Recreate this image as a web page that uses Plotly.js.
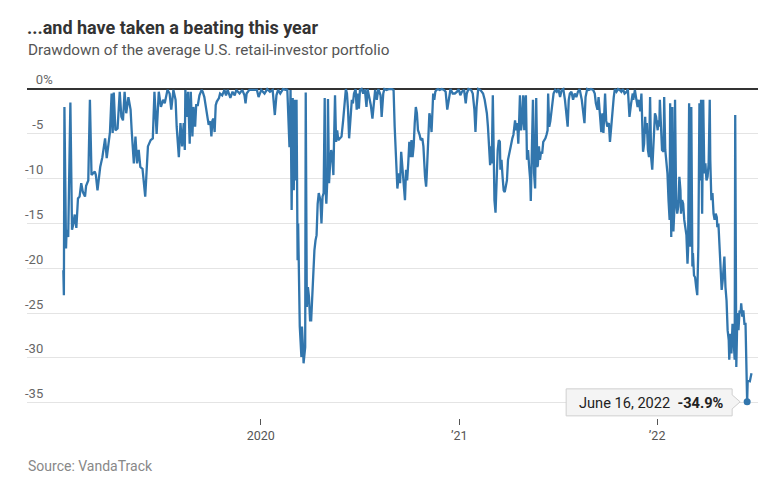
<!DOCTYPE html>
<html>
<head>
<meta charset="utf-8">
<script src="https://cdn.plot.ly/plotly-3.0.1.min.js"></script>
<style>
  html, body { margin: 0; padding: 0; background: #fff; }
  #chart { width: 768px; height: 480px; }
</style>
</head>
<body>
<div id="chart"></div>
<script>
// Drawdown (%) of the average U.S. retail-investor portfolio, by date
const dates2019 = ['2019-01-02','2019-01-03','2019-01-04','2019-01-07','2019-01-08','2019-01-10','2019-01-11','2019-01-15','2019-01-18','2019-01-20','2019-01-23','2019-01-26','2019-01-29','2019-02-01','2019-02-04','2019-02-07','2019-02-11','2019-02-13','2019-02-17','2019-02-20','2019-02-23','2019-03-01','2019-03-03','2019-03-06','2019-03-11','2019-03-15','2019-03-20','2019-03-23','2019-03-26','2019-03-29','2019-04-01','2019-04-03','2019-04-05','2019-04-08','2019-04-12','2019-04-16','2019-04-19','2019-04-22','2019-04-25','2019-04-28','2019-05-02','2019-05-06','2019-05-08','2019-05-12','2019-05-15','2019-05-18','2019-05-21','2019-05-24','2019-05-28','2019-06-02','2019-06-04','2019-06-07','2019-06-12','2019-06-16','2019-06-19','2019-06-23','2019-06-27','2019-07-01','2019-07-05','2019-07-08','2019-07-13','2019-07-17','2019-07-20','2019-07-24','2019-07-28','2019-07-30','2019-08-03','2019-08-06','2019-08-09','2019-08-12','2019-08-14','2019-08-15','2019-08-18','2019-08-20','2019-08-23','2019-08-25','2019-08-28','2019-08-30','2019-09-02','2019-09-04','2019-09-07','2019-09-10','2019-09-14','2019-09-16','2019-09-19','2019-09-22','2019-09-25','2019-09-27','2019-09-30','2019-10-02','2019-10-04','2019-10-06','2019-10-08','2019-10-10','2019-10-12','2019-10-16','2019-10-18','2019-10-22','2019-10-26','2019-10-29','2019-11-01','2019-11-06','2019-11-10','2019-11-14','2019-11-17','2019-11-23','2019-11-28','2019-12-02','2019-12-04','2019-12-06','2019-12-11','2019-12-17','2019-12-25','2019-12-28'];
const drawdown2019 = [-20.2,-23.0,-2.0,-17.8,-15.7,-16.3,-16.5,-1.5,-15.7,-15.2,-14.0,-15.5,-12.2,-12.0,-10.5,-11.5,-12.0,-10.8,-10.2,-1.2,-9.6,-9.2,-9.6,-11.3,-8.7,-7.6,-5.5,-7.7,-6.5,-4.8,-0.5,-4.9,-0.4,-4.6,-4.4,-0.3,-3.1,-3.5,-0.3,-2.7,-0.9,-2.3,-4.6,-8.3,-5.3,-8.3,-6.8,-8.7,-8.9,-12.0,-9.8,-6.4,-5.7,-5.5,-0.3,-5.0,-0.3,-2.0,-1.2,-1.6,-0.1,-0.5,-2.3,-0.1,-1.2,-4.2,-7.6,-3.8,-6.4,-3.8,-6.8,-0.1,-3.1,-0.3,-6.1,-0.3,-5.3,-2.0,-4.2,-1.8,-1.8,-0.7,-0.1,-0.3,-0.9,-2.0,-3.5,-4.0,-3.6,-5.3,-3.5,-3.3,-4.8,-1.8,-1.4,-1.0,-0.5,-0.7,-0.1,-0.7,-0.1,-1.0,-0.3,-0.7,-0.1,-0.5,-0.1,-0.7,-1.6,-0.5,-0.1,-0.1,-0.1,-0.9];

const dates2020 = ['2020-01-02','2020-01-08','2020-01-13','2020-01-18','2020-01-23','2020-01-27','2020-01-30','2020-02-02','2020-02-06','2020-02-11','2020-02-17','2020-02-19','2020-02-23','2020-02-25','2020-02-27','2020-02-29','2020-03-02','2020-03-03','2020-03-05','2020-03-07','2020-03-09','2020-03-10','2020-03-12','2020-03-13','2020-03-16','2020-03-17','2020-03-19','2020-03-20','2020-03-23','2020-03-24','2020-03-26','2020-03-28','2020-03-30','2020-04-01','2020-04-03','2020-04-05','2020-04-07','2020-04-09','2020-04-11','2020-04-13','2020-04-15','2020-04-17','2020-04-20','2020-04-22','2020-04-24','2020-04-26','2020-04-28','2020-04-29','2020-05-01','2020-05-03','2020-05-04','2020-05-06','2020-05-08','2020-05-10','2020-05-12','2020-05-14','2020-05-15','2020-05-17','2020-05-19','2020-05-21','2020-05-23','2020-05-26','2020-05-29','2020-06-01','2020-06-04','2020-06-06','2020-06-08','2020-06-10','2020-06-12','2020-06-15','2020-06-17','2020-06-19','2020-06-21','2020-06-24','2020-06-26','2020-06-28','2020-06-30','2020-07-02','2020-07-05','2020-07-08','2020-07-11','2020-07-14','2020-07-16','2020-07-19','2020-07-22','2020-07-25','2020-07-27','2020-07-30','2020-08-02','2020-08-05','2020-08-09','2020-08-11','2020-08-14','2020-08-16','2020-08-20','2020-08-25','2020-08-30','2020-09-02','2020-09-04','2020-09-07','2020-09-09','2020-09-12','2020-09-14','2020-09-16','2020-09-19','2020-09-21','2020-09-23','2020-09-25','2020-09-27','2020-09-29','2020-10-01','2020-10-03','2020-10-05','2020-10-07','2020-10-09','2020-10-11','2020-10-13','2020-10-15','2020-10-17','2020-10-20','2020-10-22','2020-10-25','2020-10-27','2020-10-30','2020-11-01','2020-11-02','2020-11-04','2020-11-07','2020-11-09','2020-11-11','2020-11-13','2020-11-14','2020-11-16','2020-11-18','2020-11-20','2020-11-23','2020-11-26','2020-11-30','2020-12-04','2020-12-07','2020-12-10','2020-12-12','2020-12-14','2020-12-16','2020-12-20','2020-12-24','2020-12-28','2020-12-31'];
const drawdown2020 = [-0.1,-0.5,0,-0.3,-0.1,-2.9,-0.7,-0.1,-0.5,0,-0.1,0,-6.5,-0.1,-13.5,-1.0,-11.3,-1.2,-10.2,-1.2,-19.1,-15.0,-20.6,-26.5,-29.9,-26.5,-28.8,-30.6,-28.8,-0.4,-24.3,-22.1,-23.2,-25.8,-25.8,-22.8,-20.9,-18.0,-16.9,-16.3,-12.8,-11.6,-12.4,-15.0,-12.0,-11.6,-1.0,-10.5,-12.8,-9.8,-1.1,-10.5,-8.3,-6.8,-7.6,-9.6,-6.4,-0.7,-5.9,-4.6,-5.7,-5.5,-5.3,-3.5,-1.6,0,-0.5,-2.3,-5.5,-2.7,-1.2,-1.6,-0.5,0,-2.3,-0.5,-2.2,-0.1,0,-0.5,0,-2.0,0,-0.9,-1.8,-3.3,-2.2,-0.1,-1.2,0,-0.7,-3.1,-0.5,0,-0.1,0,0,-0.1,-4.2,-7.6,-11.1,-9.4,-10.5,-7.0,-9.0,-10.2,-12.4,-9.0,-10.2,-8.3,-5.9,-7.6,-5.7,-7.6,-6.4,-3.8,-2.0,-2.7,-4.6,-5.1,-5.7,-5.5,-6.4,-9.8,-10.9,-9.8,-7.2,-2.7,-3.3,-4.8,-2.0,-0.5,-1.2,-0.3,-0.1,0,-0.1,0,-0.1,-0.3,-2.3,-1.6,-0.7,0,-0.5,-0.5,-0.3,0];

const dates2021 = ['2021-01-03','2021-01-06','2021-01-10','2021-01-13','2021-01-15','2021-01-18','2021-01-23','2021-01-26','2021-01-29','2021-01-31','2021-02-02','2021-02-05','2021-02-09','2021-02-12','2021-02-14','2021-02-17','2021-02-21','2021-02-23','2021-02-25','2021-02-27','2021-03-01','2021-03-02','2021-03-04','2021-03-06','2021-03-07','2021-03-09','2021-03-11','2021-03-13','2021-03-15','2021-03-17','2021-03-18','2021-03-20','2021-03-22','2021-03-24','2021-03-26','2021-03-28','2021-03-30','2021-04-01','2021-04-04','2021-04-06','2021-04-09','2021-04-11','2021-04-14','2021-04-16','2021-04-18','2021-04-20','2021-04-22','2021-04-23','2021-04-25','2021-04-27','2021-04-29','2021-05-01','2021-05-03','2021-05-04','2021-05-06','2021-05-08','2021-05-10','2021-05-12','2021-05-13','2021-05-15','2021-05-17','2021-05-19','2021-05-21','2021-05-23','2021-05-25','2021-05-26','2021-05-28','2021-05-30','2021-06-01','2021-06-03','2021-06-05','2021-06-07','2021-06-09','2021-06-11','2021-06-13','2021-06-14','2021-06-16','2021-06-18','2021-06-20','2021-06-22','2021-06-24','2021-06-27','2021-06-30','2021-07-03','2021-07-06','2021-07-09','2021-07-12','2021-07-15','2021-07-18','2021-07-20','2021-07-22','2021-07-24','2021-07-27','2021-07-30','2021-08-02','2021-08-05','2021-08-08','2021-08-11','2021-08-15','2021-08-17','2021-08-20','2021-08-22','2021-08-25','2021-08-28','2021-09-01','2021-09-05','2021-09-08','2021-09-10','2021-09-13','2021-09-15','2021-09-18','2021-09-20','2021-09-22','2021-09-24','2021-09-27','2021-09-29','2021-10-01','2021-10-04','2021-10-06','2021-10-08','2021-10-10','2021-10-13','2021-10-15','2021-10-18','2021-10-21','2021-10-24','2021-10-27','2021-10-30','2021-11-02','2021-11-06','2021-11-08','2021-11-11','2021-11-14','2021-11-17','2021-11-18','2021-11-21','2021-11-23','2021-11-26','2021-11-28','2021-12-01','2021-12-03','2021-12-06','2021-12-08','2021-12-10','2021-12-11','2021-12-13','2021-12-15','2021-12-17','2021-12-19','2021-12-21','2021-12-23','2021-12-25','2021-12-27','2021-12-28','2021-12-30'];
const drawdown2021 = [-0.7,-0.3,-0.1,-1.6,-0.5,0,-0.1,-0.5,-2.3,-4.8,-2.0,0,-0.1,-0.3,-0.5,-1.2,-2.7,-4.2,-5.9,-8.5,-6.4,-8.3,-0.7,-11.6,-12.4,-13.8,-9.8,-6.8,-5.7,-5.9,-9.0,-7.9,-9.8,-11.3,-11.5,-10.9,-10.2,-7.9,-7.2,-6.4,-5.5,-5.1,-3.5,-4.6,-3.8,-6.1,-2.7,-0.7,-4.6,-3.5,-0.7,-4.6,-1.2,-0.7,-7.9,-6.8,-8.7,-10.2,-12.5,-7.9,-1.2,-9.4,-11.1,-1.0,-8.7,-8.5,-6.4,-7.9,-7.0,-7.2,-5.9,-5.7,-5.5,-5.1,-4.6,-0.5,-4.2,-3.6,-2.7,-1.4,-0.5,-0.1,-0.3,0,-0.9,-0.1,0,-1.2,-2.7,-4.2,-1.2,-0.5,-0.3,-1.2,-0.5,-0.9,-0.3,0,-1.2,-2.3,-3.8,-0.9,0,-0.1,0,-0.1,-0.5,-1.6,-2.3,-0.9,-3.1,-4.8,-2.7,-4.9,-0.5,-3.5,-4.2,-3.8,-5.9,-4.2,-3.1,-0.9,0,-0.3,0,-0.1,-0.3,0,-0.5,-0.3,0,-3.1,-1.6,-0.5,-1.2,-0.1,-0.9,-2.0,-1.2,-2.5,-0.5,-7.0,-6.1,-3.1,-5.0,-3.8,-6.8,-7.6,-0.9,-7.7,-9.0,-6.4,-4.2,-2.7,-3.1];

const dates2022 = ['2022-01-02','2022-01-03','2022-01-05','2022-01-06','2022-01-08','2022-01-10','2022-01-13','2022-01-14','2022-01-16','2022-01-18','2022-01-20','2022-01-22','2022-01-24','2022-01-25','2022-01-27','2022-01-29','2022-01-31','2022-02-02','2022-02-03','2022-02-05','2022-02-07','2022-02-09','2022-02-11','2022-02-13','2022-02-14','2022-02-16','2022-02-18','2022-02-20','2022-02-22','2022-02-24','2022-02-26','2022-02-27','2022-03-01','2022-03-03','2022-03-05','2022-03-07','2022-03-08','2022-03-10','2022-03-12','2022-03-14','2022-03-16','2022-03-18','2022-03-20','2022-03-22','2022-03-23','2022-03-25','2022-03-27','2022-03-29','2022-03-31','2022-04-02','2022-04-04','2022-04-06','2022-04-08','2022-04-09','2022-04-11','2022-04-13','2022-04-15','2022-04-17','2022-04-19','2022-04-21','2022-04-22','2022-04-24','2022-04-26','2022-04-28','2022-04-30','2022-05-02','2022-05-03','2022-05-05','2022-05-07','2022-05-09','2022-05-11','2022-05-13','2022-05-14','2022-05-16','2022-05-18','2022-05-20','2022-05-22','2022-05-24','2022-05-25','2022-05-27','2022-05-29','2022-05-31','2022-06-02','2022-06-04','2022-06-05','2022-06-07','2022-06-09','2022-06-11','2022-06-13','2022-06-14','2022-06-15','2022-06-16','2022-06-17','2022-06-21','2022-06-23','2022-06-24'];
const drawdown2022 = [-4.6,-3.5,-4.2,-1.2,-5.0,-6.8,-7.0,-0.9,-6.8,-8.3,-9.4,-12.4,-14.6,-1.6,-16.5,-2.0,-15.9,-13.1,-1.2,-12.4,-13.9,-13.1,-9.8,-11.3,-13.9,-12.4,-12.8,-14.6,-15.4,-16.3,-19.5,-18.0,-1.6,-17.6,-2.0,-19.8,-18.3,-20.8,-21.0,-22.1,-23.0,-17.6,-1.6,-10.2,-1.2,-13.9,-1.2,-9.4,-8.3,-10.2,-9.8,-8.3,-1.2,-7.9,-12.4,-11.6,-13.9,-14.6,-13.9,-14.3,-15.4,-15.0,-17.6,-19.1,-22.4,-21.3,-20.6,-18.7,-22.1,-23.6,-26.9,-28.0,-30.2,-27.3,-29.5,-26.2,-28.0,-30.2,-2.9,-31.0,-25.0,-26.9,-24.7,-25.0,-23.9,-25.4,-24.7,-26.2,-26.2,-30.2,-31.7,-34.9,-32.5,-32.6,-32.0,-31.7];

// Axis ticks
const yTickVals = [-35, -30, -25, -20, -15, -10, -5, 0];
const yTickText = ['-35', '-30', '-25', '-20', '-15', '-10', '\u2007-5', '\u2007\u20080%'];
const xTickVals = ['2020-01-01', '2021-01-01', '2022-01-01'];
const xTickText = ['2020', '\u201921', '\u201922'];

const monthNames = ['January','February','March','April','May','June','July','August','September','October','November','December'];

const dates = dates2019.concat(dates2020, dates2021, dates2022);
const drawdown = drawdown2019.concat(drawdown2020, drawdown2021, drawdown2022);

// Deepest drawdown gets the callout
let lowIdx = 0;
drawdown.forEach((v, i) => { if (v < drawdown[lowIdx]) lowIdx = i; });
const lowDate = dates[lowIdx];
const lowValue = drawdown[lowIdx];
const [ly, lm, ld] = lowDate.split('-').map(Number);
const lowLabel = monthNames[lm - 1] + ' ' + ld + ', ' + ly + '  <b>' + lowValue.toFixed(1) + '%</b>';

const BLUE = '#3276ad';
const FONT = 'Roboto, "Liberation Sans", sans-serif';

const traces = [
  {
    x: dates, y: drawdown, type: 'scatter', mode: 'lines',
    line: { color: BLUE, width: 2.3 },
    hoverinfo: 'skip'
  },
  {
    x: [lowDate], y: [lowValue], type: 'scatter', mode: 'markers',
    marker: { color: BLUE, size: 7 },
    cliponaxis: false, hoverinfo: 'skip'
  }
];

const layout = {
  width: 768, height: 480,
  margin: { l: 27, r: 10, t: 72, b: 62 },
  paper_bgcolor: '#fff', plot_bgcolor: '#fff',
  showlegend: false,
  font: { family: FONT, color: '#666' },
  title: {
    text: '...and have taken a beating this year',
    font: { family: FONT, size: 18, color: '#333', weight: 700 },
    x: 27 / 768, xref: 'container', xanchor: 'left',
    y: 1 - 28 / 480, yref: 'container', yanchor: 'middle'
  },
  xaxis: {
    type: 'date',
    range: ['2018-10-27', '2022-07-06'],
    tickvals: xTickVals, ticktext: xTickText,
    ticks: 'outside', ticklen: 6, tickwidth: 1, tickcolor: '#555',
    showgrid: false, zeroline: false, showline: false,
    tickfont: { family: FONT, size: 12.5, color: '#555' }
  },
  yaxis: {
    range: [-36.7, 1.9],
    tickvals: yTickVals, ticktext: yTickText,
    ticklabelposition: 'inside top',
    ticklabelstandoff: -5,
    ticks: '', showline: false,
    showgrid: true, gridcolor: '#e4e4e4', gridwidth: 1,
    zeroline: true, zerolinecolor: '#333', zerolinewidth: 1.5,
    tickfont: { family: FONT, size: 13, color: '#666' }
  },
  shapes: [
    {
      // callout box with a pointer towards the low point
      type: 'path', xref: 'x', yref: 'y',
      xsizemode: 'pixel', ysizemode: 'pixel',
      xanchor: lowDate, yanchor: lowValue,
      path: 'M -181 13 L -15 13 L -15 7 L -7 0 L -15 -7 L -15 -14 L -181 -14 Z',
      fillcolor: '#f4f4f4', line: { color: '#cfcfcf', width: 1 },
      layer: 'above'
    }
  ],
  annotations: [
    {
      text: 'Drawdown of the average U.S. retail-investor portfolio',
      xref: 'paper', yref: 'paper', x: 0, y: 1.065,
      xanchor: 'left', yanchor: 'middle', showarrow: false, xshift: -1,
      font: { family: FONT, size: 15.3, color: '#555' }
    },
    {
      text: 'Source: VandaTrack',
      xref: 'paper', yref: 'paper', x: 0, y: -0.1387,
      xanchor: 'left', yanchor: 'middle', showarrow: false, xshift: -1,
      font: { family: FONT, size: 14, color: '#888' }
    },
    {
      text: lowLabel,
      xref: 'x', yref: 'y', x: lowDate, y: lowValue,
      xanchor: 'right', yanchor: 'middle', xshift: -21, yshift: -1,
      showarrow: false,
      font: { family: FONT, size: 14.6, color: '#222' }
    }
  ]
};

Plotly.newPlot('chart', traces, layout, { displayModeBar: false, staticPlot: true });
</script>
</body>
</html>
